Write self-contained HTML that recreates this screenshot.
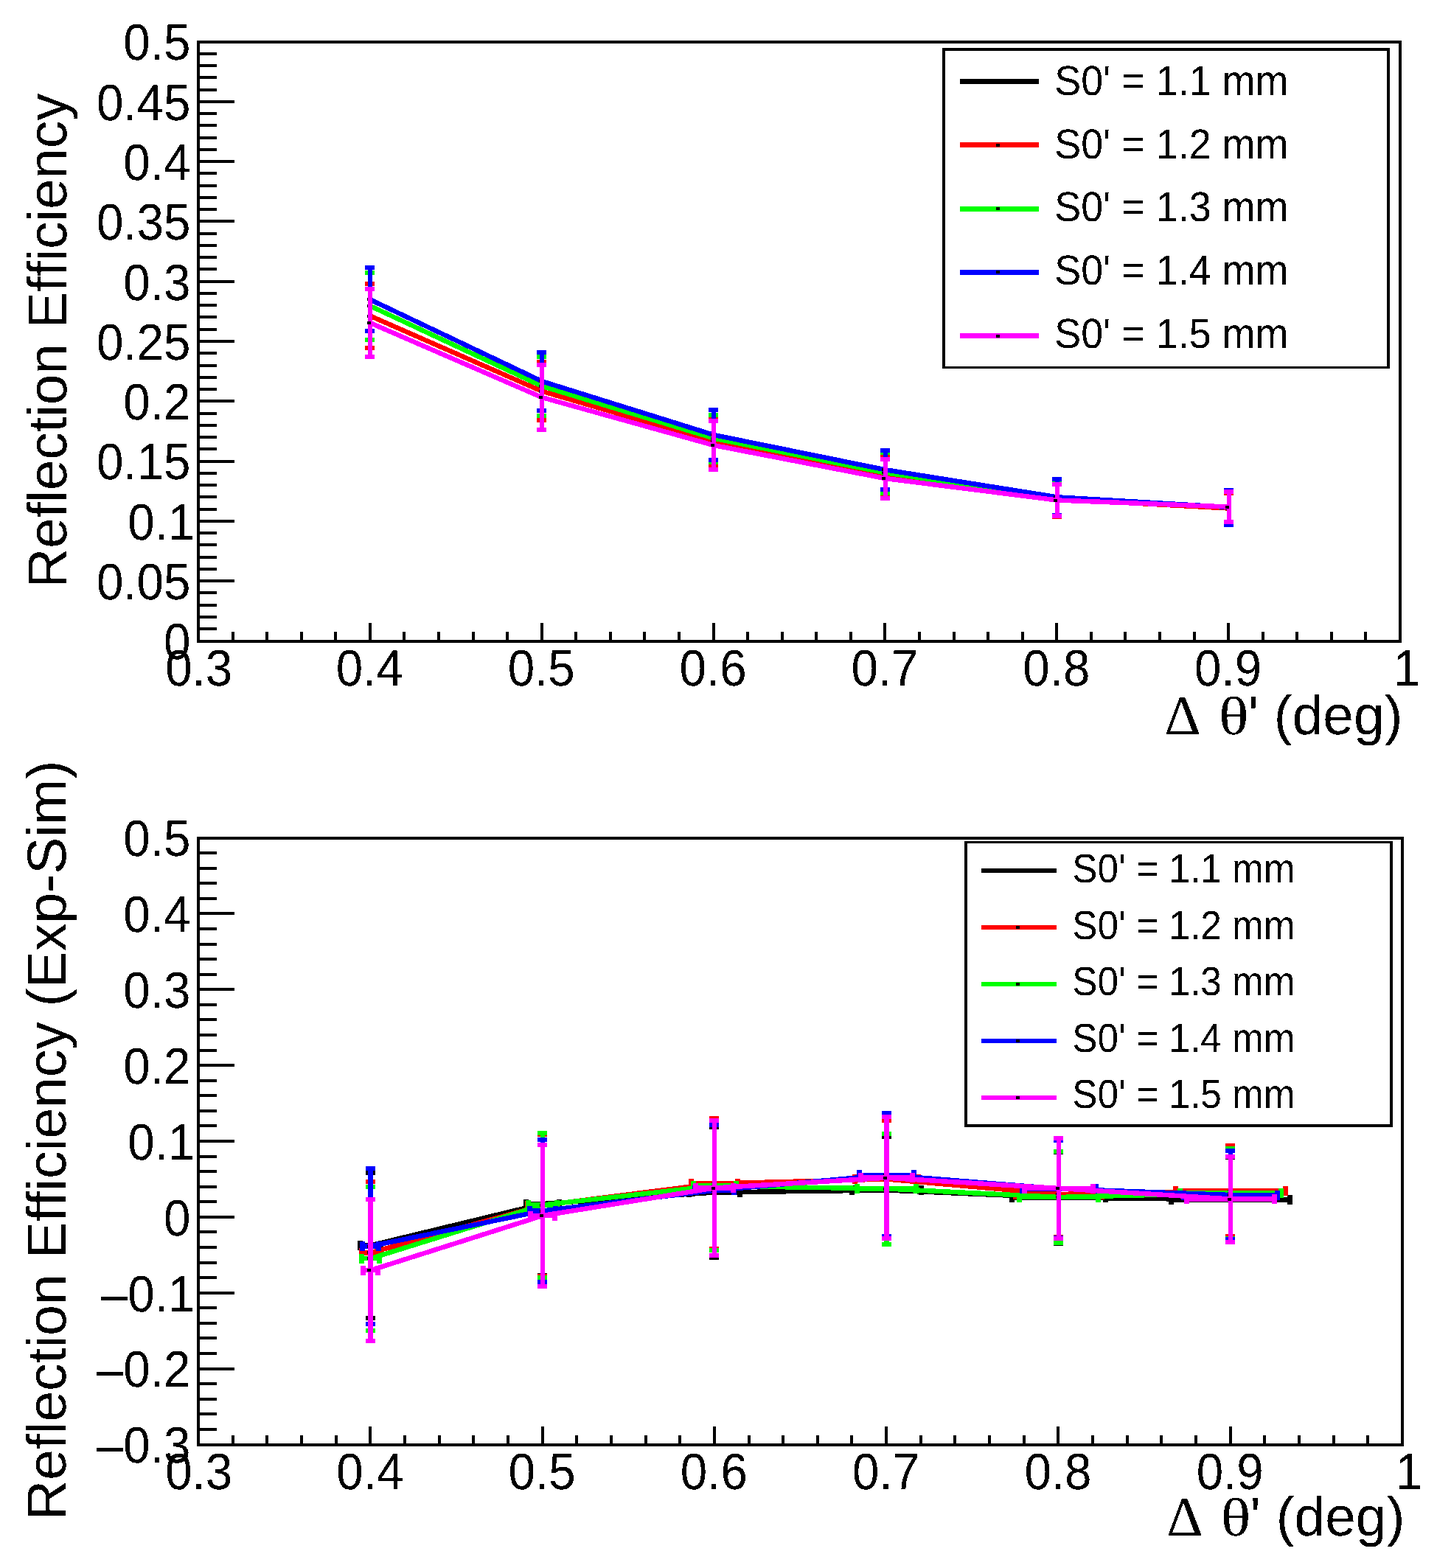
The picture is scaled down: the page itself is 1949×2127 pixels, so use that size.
<!DOCTYPE html>
<html><head><meta charset="utf-8"><title>Reflection Efficiency</title>
<style>
html,body{margin:0;padding:0;background:#fff;overflow:hidden;}
svg{display:block;}
text{font-variant-ligatures:none;font-kerning:none;fill:#000;text-rendering:geometricPrecision;}
</style></head>
<body>
<svg width="1949" height="2127" viewBox="0 0 1949 2127">
<defs><filter id="bin" x="-5%" y="-10%" width="110%" height="120%" color-interpolation-filters="sRGB"><feComponentTransfer><feFuncA type="discrete" tableValues="0 1"/></feComponentTransfer></filter></defs>
<rect x="0" y="0" width="1949" height="2127" fill="#fff"/>
<g shape-rendering="crispEdges">
<rect x="267.00" y="55.00" width="1634.00" height="4.00" fill="#000"/>
<rect x="267.00" y="868.00" width="1634.00" height="4.00" fill="#000"/>
<rect x="267.00" y="55.00" width="4.00" height="817.00" fill="#000"/>
<rect x="1897.00" y="55.00" width="4.00" height="817.00" fill="#000"/>
<rect x="313.57" y="857.00" width="4.00" height="11.00" fill="#000"/>
<rect x="360.14" y="857.00" width="4.00" height="11.00" fill="#000"/>
<rect x="406.71" y="857.00" width="4.00" height="11.00" fill="#000"/>
<rect x="453.29" y="857.00" width="4.00" height="11.00" fill="#000"/>
<rect x="499.86" y="845.00" width="4.00" height="23.00" fill="#000"/>
<rect x="546.43" y="857.00" width="4.00" height="11.00" fill="#000"/>
<rect x="593.00" y="857.00" width="4.00" height="11.00" fill="#000"/>
<rect x="639.57" y="857.00" width="4.00" height="11.00" fill="#000"/>
<rect x="686.14" y="857.00" width="4.00" height="11.00" fill="#000"/>
<rect x="732.71" y="845.00" width="4.00" height="23.00" fill="#000"/>
<rect x="779.29" y="857.00" width="4.00" height="11.00" fill="#000"/>
<rect x="825.86" y="857.00" width="4.00" height="11.00" fill="#000"/>
<rect x="872.43" y="857.00" width="4.00" height="11.00" fill="#000"/>
<rect x="919.00" y="857.00" width="4.00" height="11.00" fill="#000"/>
<rect x="965.57" y="845.00" width="4.00" height="23.00" fill="#000"/>
<rect x="1012.14" y="857.00" width="4.00" height="11.00" fill="#000"/>
<rect x="1058.71" y="857.00" width="4.00" height="11.00" fill="#000"/>
<rect x="1105.29" y="857.00" width="4.00" height="11.00" fill="#000"/>
<rect x="1151.86" y="857.00" width="4.00" height="11.00" fill="#000"/>
<rect x="1198.43" y="845.00" width="4.00" height="23.00" fill="#000"/>
<rect x="1245.00" y="857.00" width="4.00" height="11.00" fill="#000"/>
<rect x="1291.57" y="857.00" width="4.00" height="11.00" fill="#000"/>
<rect x="1338.14" y="857.00" width="4.00" height="11.00" fill="#000"/>
<rect x="1384.71" y="857.00" width="4.00" height="11.00" fill="#000"/>
<rect x="1431.29" y="845.00" width="4.00" height="23.00" fill="#000"/>
<rect x="1477.86" y="857.00" width="4.00" height="11.00" fill="#000"/>
<rect x="1524.43" y="857.00" width="4.00" height="11.00" fill="#000"/>
<rect x="1571.00" y="857.00" width="4.00" height="11.00" fill="#000"/>
<rect x="1617.57" y="857.00" width="4.00" height="11.00" fill="#000"/>
<rect x="1664.14" y="845.00" width="4.00" height="23.00" fill="#000"/>
<rect x="1710.71" y="857.00" width="4.00" height="11.00" fill="#000"/>
<rect x="1757.29" y="857.00" width="4.00" height="11.00" fill="#000"/>
<rect x="1803.86" y="857.00" width="4.00" height="11.00" fill="#000"/>
<rect x="1850.43" y="857.00" width="4.00" height="11.00" fill="#000"/>
<rect x="269.00" y="851.24" width="25.00" height="4.00" fill="#000"/>
<rect x="269.00" y="834.98" width="25.00" height="4.00" fill="#000"/>
<rect x="269.00" y="818.72" width="25.00" height="4.00" fill="#000"/>
<rect x="269.00" y="802.46" width="25.00" height="4.00" fill="#000"/>
<rect x="269.00" y="786.20" width="49.00" height="4.00" fill="#000"/>
<rect x="269.00" y="769.94" width="25.00" height="4.00" fill="#000"/>
<rect x="269.00" y="753.68" width="25.00" height="4.00" fill="#000"/>
<rect x="269.00" y="737.42" width="25.00" height="4.00" fill="#000"/>
<rect x="269.00" y="721.16" width="25.00" height="4.00" fill="#000"/>
<rect x="269.00" y="704.90" width="49.00" height="4.00" fill="#000"/>
<rect x="269.00" y="688.64" width="25.00" height="4.00" fill="#000"/>
<rect x="269.00" y="672.38" width="25.00" height="4.00" fill="#000"/>
<rect x="269.00" y="656.12" width="25.00" height="4.00" fill="#000"/>
<rect x="269.00" y="639.86" width="25.00" height="4.00" fill="#000"/>
<rect x="269.00" y="623.60" width="49.00" height="4.00" fill="#000"/>
<rect x="269.00" y="607.34" width="25.00" height="4.00" fill="#000"/>
<rect x="269.00" y="591.08" width="25.00" height="4.00" fill="#000"/>
<rect x="269.00" y="574.82" width="25.00" height="4.00" fill="#000"/>
<rect x="269.00" y="558.56" width="25.00" height="4.00" fill="#000"/>
<rect x="269.00" y="542.30" width="49.00" height="4.00" fill="#000"/>
<rect x="269.00" y="526.04" width="25.00" height="4.00" fill="#000"/>
<rect x="269.00" y="509.78" width="25.00" height="4.00" fill="#000"/>
<rect x="269.00" y="493.52" width="25.00" height="4.00" fill="#000"/>
<rect x="269.00" y="477.26" width="25.00" height="4.00" fill="#000"/>
<rect x="269.00" y="461.00" width="49.00" height="4.00" fill="#000"/>
<rect x="269.00" y="444.74" width="25.00" height="4.00" fill="#000"/>
<rect x="269.00" y="428.48" width="25.00" height="4.00" fill="#000"/>
<rect x="269.00" y="412.22" width="25.00" height="4.00" fill="#000"/>
<rect x="269.00" y="395.96" width="25.00" height="4.00" fill="#000"/>
<rect x="269.00" y="379.70" width="49.00" height="4.00" fill="#000"/>
<rect x="269.00" y="363.44" width="25.00" height="4.00" fill="#000"/>
<rect x="269.00" y="347.18" width="25.00" height="4.00" fill="#000"/>
<rect x="269.00" y="330.92" width="25.00" height="4.00" fill="#000"/>
<rect x="269.00" y="314.66" width="25.00" height="4.00" fill="#000"/>
<rect x="269.00" y="298.40" width="49.00" height="4.00" fill="#000"/>
<rect x="269.00" y="282.14" width="25.00" height="4.00" fill="#000"/>
<rect x="269.00" y="265.88" width="25.00" height="4.00" fill="#000"/>
<rect x="269.00" y="249.62" width="25.00" height="4.00" fill="#000"/>
<rect x="269.00" y="233.36" width="25.00" height="4.00" fill="#000"/>
<rect x="269.00" y="217.10" width="49.00" height="4.00" fill="#000"/>
<rect x="269.00" y="200.84" width="25.00" height="4.00" fill="#000"/>
<rect x="269.00" y="184.58" width="25.00" height="4.00" fill="#000"/>
<rect x="269.00" y="168.32" width="25.00" height="4.00" fill="#000"/>
<rect x="269.00" y="152.06" width="25.00" height="4.00" fill="#000"/>
<rect x="269.00" y="135.80" width="49.00" height="4.00" fill="#000"/>
<rect x="269.00" y="119.54" width="25.00" height="4.00" fill="#000"/>
<rect x="269.00" y="103.28" width="25.00" height="4.00" fill="#000"/>
<rect x="269.00" y="87.02" width="25.00" height="4.00" fill="#000"/>
<rect x="269.00" y="70.76" width="25.00" height="4.00" fill="#000"/>
</g>
<g shape-rendering="crispEdges">
<rect x="499.00" y="385.00" width="6.00" height="87.00" fill="#000000"/>
<rect x="495.00" y="382.00" width="13.00" height="6.00" fill="#000000"/>
<rect x="495.00" y="469.00" width="13.00" height="6.00" fill="#000000"/>
<rect x="732.00" y="491.40" width="6.00" height="78.60" fill="#000000"/>
<rect x="728.00" y="488.40" width="13.00" height="6.00" fill="#000000"/>
<rect x="728.00" y="567.00" width="13.00" height="6.00" fill="#000000"/>
<rect x="965.00" y="566.00" width="6.00" height="66.00" fill="#000000"/>
<rect x="961.00" y="563.00" width="13.00" height="6.00" fill="#000000"/>
<rect x="961.00" y="629.00" width="13.00" height="6.00" fill="#000000"/>
<rect x="1197.50" y="617.50" width="6.00" height="54.00" fill="#000000"/>
<rect x="1193.50" y="614.50" width="13.00" height="6.00" fill="#000000"/>
<rect x="1193.50" y="668.50" width="13.00" height="6.00" fill="#000000"/>
<rect x="1430.50" y="653.00" width="6.00" height="48.00" fill="#000000"/>
<rect x="1426.50" y="650.00" width="13.00" height="6.00" fill="#000000"/>
<rect x="1426.50" y="698.00" width="13.00" height="6.00" fill="#000000"/>
<rect x="1663.50" y="668.50" width="6.00" height="42.00" fill="#000000"/>
<rect x="1659.50" y="665.50" width="13.00" height="6.00" fill="#000000"/>
<rect x="1659.50" y="707.50" width="13.00" height="6.00" fill="#000000"/>
<polyline points="502.00,428.50 735.00,530.70 968.00,599.00 1200.50,644.50 1433.50,677.00 1666.50,689.50" fill="none" stroke="#000000" stroke-width="6.5" stroke-linejoin="miter" stroke-linecap="butt"/>
<rect x="497.80" y="426.50" width="5.00" height="4.00" fill="#000"/>
<rect x="730.80" y="528.70" width="5.00" height="4.00" fill="#000"/>
<rect x="963.80" y="597.00" width="5.00" height="4.00" fill="#000"/>
<rect x="1196.30" y="642.50" width="5.00" height="4.00" fill="#000"/>
<rect x="1429.30" y="675.00" width="5.00" height="4.00" fill="#000"/>
<rect x="1662.30" y="687.50" width="5.00" height="4.00" fill="#000"/>
<rect x="499.00" y="385.00" width="6.00" height="87.00" fill="#ff0000"/>
<rect x="495.00" y="382.00" width="13.00" height="6.00" fill="#ff0000"/>
<rect x="495.00" y="469.00" width="13.00" height="6.00" fill="#ff0000"/>
<rect x="732.00" y="491.40" width="6.00" height="78.60" fill="#ff0000"/>
<rect x="728.00" y="488.40" width="13.00" height="6.00" fill="#ff0000"/>
<rect x="728.00" y="567.00" width="13.00" height="6.00" fill="#ff0000"/>
<rect x="965.00" y="566.00" width="6.00" height="66.00" fill="#ff0000"/>
<rect x="961.00" y="563.00" width="13.00" height="6.00" fill="#ff0000"/>
<rect x="961.00" y="629.00" width="13.00" height="6.00" fill="#ff0000"/>
<rect x="1197.50" y="617.50" width="6.00" height="54.00" fill="#ff0000"/>
<rect x="1193.50" y="614.50" width="13.00" height="6.00" fill="#ff0000"/>
<rect x="1193.50" y="668.50" width="13.00" height="6.00" fill="#ff0000"/>
<rect x="1430.50" y="653.00" width="6.00" height="48.00" fill="#ff0000"/>
<rect x="1426.50" y="650.00" width="13.00" height="6.00" fill="#ff0000"/>
<rect x="1426.50" y="698.00" width="13.00" height="6.00" fill="#ff0000"/>
<rect x="1663.50" y="668.50" width="6.00" height="42.00" fill="#ff0000"/>
<rect x="1659.50" y="665.50" width="13.00" height="6.00" fill="#ff0000"/>
<rect x="1659.50" y="707.50" width="13.00" height="6.00" fill="#ff0000"/>
<polyline points="502.00,428.50 735.00,530.70 968.00,599.00 1200.50,644.50 1433.50,677.00 1666.50,689.50" fill="none" stroke="#ff0000" stroke-width="6.5" stroke-linejoin="miter" stroke-linecap="butt"/>
<rect x="497.80" y="426.50" width="5.00" height="4.00" fill="#000"/>
<rect x="730.80" y="528.70" width="5.00" height="4.00" fill="#000"/>
<rect x="963.80" y="597.00" width="5.00" height="4.00" fill="#000"/>
<rect x="1196.30" y="642.50" width="5.00" height="4.00" fill="#000"/>
<rect x="1429.30" y="675.00" width="5.00" height="4.00" fill="#000"/>
<rect x="1662.30" y="687.50" width="5.00" height="4.00" fill="#000"/>
<rect x="499.00" y="369.50" width="6.00" height="91.00" fill="#00ff00"/>
<rect x="495.00" y="366.50" width="13.00" height="6.00" fill="#00ff00"/>
<rect x="495.00" y="457.50" width="13.00" height="6.00" fill="#00ff00"/>
<rect x="732.00" y="483.60" width="6.00" height="80.40" fill="#00ff00"/>
<rect x="728.00" y="480.60" width="13.00" height="6.00" fill="#00ff00"/>
<rect x="728.00" y="561.00" width="13.00" height="6.00" fill="#00ff00"/>
<rect x="965.00" y="562.50" width="6.00" height="64.00" fill="#00ff00"/>
<rect x="961.00" y="559.50" width="13.00" height="6.00" fill="#00ff00"/>
<rect x="961.00" y="623.50" width="13.00" height="6.00" fill="#00ff00"/>
<rect x="1197.50" y="613.60" width="6.00" height="55.40" fill="#00ff00"/>
<rect x="1193.50" y="610.60" width="13.00" height="6.00" fill="#00ff00"/>
<rect x="1193.50" y="666.00" width="13.00" height="6.00" fill="#00ff00"/>
<rect x="1430.50" y="650.50" width="6.00" height="49.00" fill="#00ff00"/>
<rect x="1426.50" y="647.50" width="13.00" height="6.00" fill="#00ff00"/>
<rect x="1426.50" y="696.50" width="13.00" height="6.00" fill="#00ff00"/>
<rect x="1663.50" y="665.00" width="6.00" height="46.00" fill="#00ff00"/>
<rect x="1659.50" y="662.00" width="13.00" height="6.00" fill="#00ff00"/>
<rect x="1659.50" y="708.00" width="13.00" height="6.00" fill="#00ff00"/>
<polyline points="502.00,415.00 735.00,523.80 968.00,594.50 1200.50,641.30 1433.50,675.00 1666.50,688.00" fill="none" stroke="#00ff00" stroke-width="6.5" stroke-linejoin="miter" stroke-linecap="butt"/>
<rect x="497.80" y="413.00" width="5.00" height="4.00" fill="#000"/>
<rect x="730.80" y="521.80" width="5.00" height="4.00" fill="#000"/>
<rect x="963.80" y="592.50" width="5.00" height="4.00" fill="#000"/>
<rect x="1196.30" y="639.30" width="5.00" height="4.00" fill="#000"/>
<rect x="1429.30" y="673.00" width="5.00" height="4.00" fill="#000"/>
<rect x="1662.30" y="686.00" width="5.00" height="4.00" fill="#000"/>
<rect x="499.00" y="363.40" width="6.00" height="86.00" fill="#0000ff"/>
<rect x="495.00" y="360.40" width="13.00" height="6.00" fill="#0000ff"/>
<rect x="495.00" y="446.40" width="13.00" height="6.00" fill="#0000ff"/>
<rect x="732.00" y="477.90" width="6.00" height="78.60" fill="#0000ff"/>
<rect x="728.00" y="474.90" width="13.00" height="6.00" fill="#0000ff"/>
<rect x="728.00" y="553.50" width="13.00" height="6.00" fill="#0000ff"/>
<rect x="965.00" y="556.00" width="6.00" height="68.00" fill="#0000ff"/>
<rect x="961.00" y="553.00" width="13.00" height="6.00" fill="#0000ff"/>
<rect x="961.00" y="621.00" width="13.00" height="6.00" fill="#0000ff"/>
<rect x="1197.50" y="610.90" width="6.00" height="52.60" fill="#0000ff"/>
<rect x="1193.50" y="607.90" width="13.00" height="6.00" fill="#0000ff"/>
<rect x="1193.50" y="660.50" width="13.00" height="6.00" fill="#0000ff"/>
<rect x="1430.50" y="650.10" width="6.00" height="48.40" fill="#0000ff"/>
<rect x="1426.50" y="647.10" width="13.00" height="6.00" fill="#0000ff"/>
<rect x="1426.50" y="695.50" width="13.00" height="6.00" fill="#0000ff"/>
<rect x="1663.50" y="664.50" width="6.00" height="47.00" fill="#0000ff"/>
<rect x="1659.50" y="661.50" width="13.00" height="6.00" fill="#0000ff"/>
<rect x="1659.50" y="708.50" width="13.00" height="6.00" fill="#0000ff"/>
<polyline points="502.00,406.40 735.00,517.20 968.00,590.00 1200.50,637.20 1433.50,674.30 1666.50,688.00" fill="none" stroke="#0000ff" stroke-width="6.5" stroke-linejoin="miter" stroke-linecap="butt"/>
<rect x="497.80" y="404.40" width="5.00" height="4.00" fill="#000"/>
<rect x="730.80" y="515.20" width="5.00" height="4.00" fill="#000"/>
<rect x="963.80" y="588.00" width="5.00" height="4.00" fill="#000"/>
<rect x="1196.30" y="635.20" width="5.00" height="4.00" fill="#000"/>
<rect x="1429.30" y="672.30" width="5.00" height="4.00" fill="#000"/>
<rect x="1662.30" y="686.00" width="5.00" height="4.00" fill="#000"/>
<rect x="499.00" y="392.00" width="6.00" height="92.00" fill="#ff00ff"/>
<rect x="495.00" y="389.00" width="13.00" height="6.00" fill="#ff00ff"/>
<rect x="495.00" y="481.00" width="13.00" height="6.00" fill="#ff00ff"/>
<rect x="732.00" y="495.10" width="6.00" height="87.80" fill="#ff00ff"/>
<rect x="728.00" y="492.10" width="13.00" height="6.00" fill="#ff00ff"/>
<rect x="728.00" y="579.90" width="13.00" height="6.00" fill="#ff00ff"/>
<rect x="965.00" y="571.30" width="6.00" height="65.40" fill="#ff00ff"/>
<rect x="961.00" y="568.30" width="13.00" height="6.00" fill="#ff00ff"/>
<rect x="961.00" y="633.70" width="13.00" height="6.00" fill="#ff00ff"/>
<rect x="1197.50" y="622.50" width="6.00" height="53.00" fill="#ff00ff"/>
<rect x="1193.50" y="619.50" width="13.00" height="6.00" fill="#ff00ff"/>
<rect x="1193.50" y="672.50" width="13.00" height="6.00" fill="#ff00ff"/>
<rect x="1430.50" y="657.00" width="6.00" height="43.00" fill="#ff00ff"/>
<rect x="1426.50" y="654.00" width="13.00" height="6.00" fill="#ff00ff"/>
<rect x="1426.50" y="697.00" width="13.00" height="6.00" fill="#ff00ff"/>
<rect x="1663.50" y="667.00" width="6.00" height="41.00" fill="#ff00ff"/>
<rect x="1659.50" y="664.00" width="13.00" height="6.00" fill="#ff00ff"/>
<rect x="1659.50" y="705.00" width="13.00" height="6.00" fill="#ff00ff"/>
<polyline points="502.00,438.00 735.00,539.00 968.00,604.00 1200.50,649.00 1433.50,678.50 1666.50,687.50" fill="none" stroke="#ff00ff" stroke-width="6.5" stroke-linejoin="miter" stroke-linecap="butt"/>
<rect x="497.80" y="436.00" width="5.00" height="4.00" fill="#000"/>
<rect x="730.80" y="537.00" width="5.00" height="4.00" fill="#000"/>
<rect x="963.80" y="602.00" width="5.00" height="4.00" fill="#000"/>
<rect x="1196.30" y="647.00" width="5.00" height="4.00" fill="#000"/>
<rect x="1429.30" y="676.50" width="5.00" height="4.00" fill="#000"/>
<rect x="1662.30" y="685.50" width="5.00" height="4.00" fill="#000"/>
</g>
<g shape-rendering="crispEdges">
<rect x="1279.75" y="66.75" width="1603.5" height="0" fill="none"/>
<rect x="1278.00" y="65.00" width="607.00" height="4.00" fill="#000"/>
<rect x="1278.00" y="497.00" width="607.00" height="3.00" fill="#000"/>
<rect x="1278.00" y="65.00" width="4.00" height="435.00" fill="#000"/>
<rect x="1881.00" y="65.00" width="4.00" height="435.00" fill="#000"/>
<rect x="1302.00" y="107.00" width="107.00" height="7.00" fill="#000000"/>
<rect x="1302.00" y="193.25" width="107.00" height="7.00" fill="#ff0000"/>
<rect x="1351.00" y="194.75" width="5.00" height="4.00" fill="#000"/>
<rect x="1302.00" y="279.50" width="107.00" height="7.00" fill="#00ff00"/>
<rect x="1351.00" y="281.00" width="5.00" height="4.00" fill="#000"/>
<rect x="1302.00" y="365.75" width="107.00" height="7.00" fill="#0000ff"/>
<rect x="1351.00" y="367.25" width="5.00" height="4.00" fill="#000"/>
<rect x="1302.00" y="452.00" width="107.00" height="7.00" fill="#ff00ff"/>
<rect x="1351.00" y="453.50" width="5.00" height="4.00" fill="#000"/>
</g>
<text transform="translate(1430.25,128.80) scale(0.944,1)" font-size="57.06" text-anchor="start" font-family="'Liberation Sans', Arial, Helvetica, sans-serif"  filter="url(#bin)">S0' = 1.1 mm</text>
<text transform="translate(1430.25,214.60) scale(0.944,1)" font-size="57.06" text-anchor="start" font-family="'Liberation Sans', Arial, Helvetica, sans-serif"  filter="url(#bin)">S0' = 1.2 mm</text>
<text transform="translate(1430.25,300.40) scale(0.944,1)" font-size="57.06" text-anchor="start" font-family="'Liberation Sans', Arial, Helvetica, sans-serif"  filter="url(#bin)">S0' = 1.3 mm</text>
<text transform="translate(1430.25,386.20) scale(0.944,1)" font-size="57.06" text-anchor="start" font-family="'Liberation Sans', Arial, Helvetica, sans-serif"  filter="url(#bin)">S0' = 1.4 mm</text>
<text transform="translate(1430.25,472.00) scale(0.944,1)" font-size="57.06" text-anchor="start" font-family="'Liberation Sans', Arial, Helvetica, sans-serif"  filter="url(#bin)">S0' = 1.5 mm</text>
<text transform="translate(258.35,894.30) scale(0.945,1)" font-size="69.3" text-anchor="end" font-family="'Liberation Sans', Arial, Helvetica, sans-serif"  filter="url(#bin)">0</text>
<text transform="translate(258.35,813.00) scale(0.945,1)" font-size="69.3" text-anchor="end" font-family="'Liberation Sans', Arial, Helvetica, sans-serif"  filter="url(#bin)">0.05</text>
<text transform="translate(264.35,731.70) scale(0.945,1)" font-size="69.3" text-anchor="end" font-family="'Liberation Sans', Arial, Helvetica, sans-serif"  filter="url(#bin)">0.1</text>
<text transform="translate(258.35,650.40) scale(0.945,1)" font-size="69.3" text-anchor="end" font-family="'Liberation Sans', Arial, Helvetica, sans-serif"  filter="url(#bin)">0.15</text>
<text transform="translate(258.35,569.10) scale(0.945,1)" font-size="69.3" text-anchor="end" font-family="'Liberation Sans', Arial, Helvetica, sans-serif"  filter="url(#bin)">0.2</text>
<text transform="translate(258.35,487.80) scale(0.945,1)" font-size="69.3" text-anchor="end" font-family="'Liberation Sans', Arial, Helvetica, sans-serif"  filter="url(#bin)">0.25</text>
<text transform="translate(258.35,406.50) scale(0.945,1)" font-size="69.3" text-anchor="end" font-family="'Liberation Sans', Arial, Helvetica, sans-serif"  filter="url(#bin)">0.3</text>
<text transform="translate(258.35,325.20) scale(0.945,1)" font-size="69.3" text-anchor="end" font-family="'Liberation Sans', Arial, Helvetica, sans-serif"  filter="url(#bin)">0.35</text>
<text transform="translate(258.35,243.90) scale(0.945,1)" font-size="69.3" text-anchor="end" font-family="'Liberation Sans', Arial, Helvetica, sans-serif"  filter="url(#bin)">0.4</text>
<text transform="translate(258.35,162.60) scale(0.945,1)" font-size="69.3" text-anchor="end" font-family="'Liberation Sans', Arial, Helvetica, sans-serif"  filter="url(#bin)">0.45</text>
<text transform="translate(258.35,81.30) scale(0.945,1)" font-size="69.3" text-anchor="end" font-family="'Liberation Sans', Arial, Helvetica, sans-serif"  filter="url(#bin)">0.5</text>
<text transform="translate(269.70,930.30) scale(0.945,1)" font-size="69.3" text-anchor="middle" font-family="'Liberation Sans', Arial, Helvetica, sans-serif"  filter="url(#bin)">0.3</text>
<text transform="translate(501.36,930.30) scale(0.945,1)" font-size="69.3" text-anchor="middle" font-family="'Liberation Sans', Arial, Helvetica, sans-serif"  filter="url(#bin)">0.4</text>
<text transform="translate(734.21,930.30) scale(0.945,1)" font-size="69.3" text-anchor="middle" font-family="'Liberation Sans', Arial, Helvetica, sans-serif"  filter="url(#bin)">0.5</text>
<text transform="translate(967.07,930.30) scale(0.945,1)" font-size="69.3" text-anchor="middle" font-family="'Liberation Sans', Arial, Helvetica, sans-serif"  filter="url(#bin)">0.6</text>
<text transform="translate(1199.93,930.30) scale(0.945,1)" font-size="69.3" text-anchor="middle" font-family="'Liberation Sans', Arial, Helvetica, sans-serif"  filter="url(#bin)">0.7</text>
<text transform="translate(1432.79,930.30) scale(0.945,1)" font-size="69.3" text-anchor="middle" font-family="'Liberation Sans', Arial, Helvetica, sans-serif"  filter="url(#bin)">0.8</text>
<text transform="translate(1665.64,930.30) scale(0.945,1)" font-size="69.3" text-anchor="middle" font-family="'Liberation Sans', Arial, Helvetica, sans-serif"  filter="url(#bin)">0.9</text>
<text transform="translate(1907.80,930.30) scale(0.945,1)" font-size="69.3" text-anchor="middle" font-family="'Liberation Sans', Arial, Helvetica, sans-serif"  filter="url(#bin)">1</text>
<text x="1579.50" y="995.60" font-size="76.2" text-anchor="start" font-family="'Liberation Serif', 'Times New Roman', serif"  filter="url(#bin)">Δ</text>
<text transform="translate(1652.93,995.60) scale(1.15,1)" font-size="73.6" text-anchor="start" font-family="'Liberation Serif', 'Times New Roman', serif"  filter="url(#bin)">θ</text>
<text transform="translate(1692.70,995.60) scale(0.9976211715730003,1)" font-size="75.0" text-anchor="start" font-family="'Liberation Sans', Arial, Helvetica, sans-serif"  filter="url(#bin)">' (deg)</text>
<text x="0" y="0" transform="translate(90.00,462.10) rotate(-90) scale(0.9940,1)" font-size="75.0" text-anchor="middle" font-family="'Liberation Sans', Arial, Helvetica, sans-serif" filter="url(#bin)">Reflection Efficiency</text>
<g shape-rendering="crispEdges">
<rect x="267.00" y="1135.00" width="1637.00" height="4.00" fill="#000"/>
<rect x="267.00" y="1958.00" width="1637.00" height="4.00" fill="#000"/>
<rect x="267.00" y="1135.00" width="4.00" height="827.00" fill="#000"/>
<rect x="1900.00" y="1135.00" width="4.00" height="827.00" fill="#000"/>
<rect x="313.66" y="1947.00" width="4.00" height="11.00" fill="#000"/>
<rect x="360.31" y="1947.00" width="4.00" height="11.00" fill="#000"/>
<rect x="406.97" y="1947.00" width="4.00" height="11.00" fill="#000"/>
<rect x="453.63" y="1947.00" width="4.00" height="11.00" fill="#000"/>
<rect x="500.29" y="1935.00" width="4.00" height="23.00" fill="#000"/>
<rect x="546.94" y="1947.00" width="4.00" height="11.00" fill="#000"/>
<rect x="593.60" y="1947.00" width="4.00" height="11.00" fill="#000"/>
<rect x="640.26" y="1947.00" width="4.00" height="11.00" fill="#000"/>
<rect x="686.91" y="1947.00" width="4.00" height="11.00" fill="#000"/>
<rect x="733.57" y="1935.00" width="4.00" height="23.00" fill="#000"/>
<rect x="780.23" y="1947.00" width="4.00" height="11.00" fill="#000"/>
<rect x="826.89" y="1947.00" width="4.00" height="11.00" fill="#000"/>
<rect x="873.54" y="1947.00" width="4.00" height="11.00" fill="#000"/>
<rect x="920.20" y="1947.00" width="4.00" height="11.00" fill="#000"/>
<rect x="966.86" y="1935.00" width="4.00" height="23.00" fill="#000"/>
<rect x="1013.51" y="1947.00" width="4.00" height="11.00" fill="#000"/>
<rect x="1060.17" y="1947.00" width="4.00" height="11.00" fill="#000"/>
<rect x="1106.83" y="1947.00" width="4.00" height="11.00" fill="#000"/>
<rect x="1153.49" y="1947.00" width="4.00" height="11.00" fill="#000"/>
<rect x="1200.14" y="1935.00" width="4.00" height="23.00" fill="#000"/>
<rect x="1246.80" y="1947.00" width="4.00" height="11.00" fill="#000"/>
<rect x="1293.46" y="1947.00" width="4.00" height="11.00" fill="#000"/>
<rect x="1340.11" y="1947.00" width="4.00" height="11.00" fill="#000"/>
<rect x="1386.77" y="1947.00" width="4.00" height="11.00" fill="#000"/>
<rect x="1433.43" y="1935.00" width="4.00" height="23.00" fill="#000"/>
<rect x="1480.09" y="1947.00" width="4.00" height="11.00" fill="#000"/>
<rect x="1526.74" y="1947.00" width="4.00" height="11.00" fill="#000"/>
<rect x="1573.40" y="1947.00" width="4.00" height="11.00" fill="#000"/>
<rect x="1620.06" y="1947.00" width="4.00" height="11.00" fill="#000"/>
<rect x="1666.71" y="1935.00" width="4.00" height="23.00" fill="#000"/>
<rect x="1713.37" y="1947.00" width="4.00" height="11.00" fill="#000"/>
<rect x="1760.03" y="1947.00" width="4.00" height="11.00" fill="#000"/>
<rect x="1806.69" y="1947.00" width="4.00" height="11.00" fill="#000"/>
<rect x="1853.34" y="1947.00" width="4.00" height="11.00" fill="#000"/>
<rect x="269.00" y="1936.93" width="25.00" height="4.00" fill="#000"/>
<rect x="269.00" y="1916.35" width="25.00" height="4.00" fill="#000"/>
<rect x="269.00" y="1895.78" width="25.00" height="4.00" fill="#000"/>
<rect x="269.00" y="1875.20" width="25.00" height="4.00" fill="#000"/>
<rect x="269.00" y="1854.62" width="49.00" height="4.00" fill="#000"/>
<rect x="269.00" y="1834.05" width="25.00" height="4.00" fill="#000"/>
<rect x="269.00" y="1813.47" width="25.00" height="4.00" fill="#000"/>
<rect x="269.00" y="1792.90" width="25.00" height="4.00" fill="#000"/>
<rect x="269.00" y="1772.33" width="25.00" height="4.00" fill="#000"/>
<rect x="269.00" y="1751.75" width="49.00" height="4.00" fill="#000"/>
<rect x="269.00" y="1731.17" width="25.00" height="4.00" fill="#000"/>
<rect x="269.00" y="1710.60" width="25.00" height="4.00" fill="#000"/>
<rect x="269.00" y="1690.03" width="25.00" height="4.00" fill="#000"/>
<rect x="269.00" y="1669.45" width="25.00" height="4.00" fill="#000"/>
<rect x="269.00" y="1648.88" width="49.00" height="4.00" fill="#000"/>
<rect x="269.00" y="1628.30" width="25.00" height="4.00" fill="#000"/>
<rect x="269.00" y="1607.72" width="25.00" height="4.00" fill="#000"/>
<rect x="269.00" y="1587.15" width="25.00" height="4.00" fill="#000"/>
<rect x="269.00" y="1566.58" width="25.00" height="4.00" fill="#000"/>
<rect x="269.00" y="1546.00" width="49.00" height="4.00" fill="#000"/>
<rect x="269.00" y="1525.42" width="25.00" height="4.00" fill="#000"/>
<rect x="269.00" y="1504.85" width="25.00" height="4.00" fill="#000"/>
<rect x="269.00" y="1484.28" width="25.00" height="4.00" fill="#000"/>
<rect x="269.00" y="1463.70" width="25.00" height="4.00" fill="#000"/>
<rect x="269.00" y="1443.12" width="49.00" height="4.00" fill="#000"/>
<rect x="269.00" y="1422.55" width="25.00" height="4.00" fill="#000"/>
<rect x="269.00" y="1401.97" width="25.00" height="4.00" fill="#000"/>
<rect x="269.00" y="1381.40" width="25.00" height="4.00" fill="#000"/>
<rect x="269.00" y="1360.83" width="25.00" height="4.00" fill="#000"/>
<rect x="269.00" y="1340.25" width="49.00" height="4.00" fill="#000"/>
<rect x="269.00" y="1319.67" width="25.00" height="4.00" fill="#000"/>
<rect x="269.00" y="1299.10" width="25.00" height="4.00" fill="#000"/>
<rect x="269.00" y="1278.52" width="25.00" height="4.00" fill="#000"/>
<rect x="269.00" y="1257.95" width="25.00" height="4.00" fill="#000"/>
<rect x="269.00" y="1237.38" width="49.00" height="4.00" fill="#000"/>
<rect x="269.00" y="1216.80" width="25.00" height="4.00" fill="#000"/>
<rect x="269.00" y="1196.22" width="25.00" height="4.00" fill="#000"/>
<rect x="269.00" y="1175.65" width="25.00" height="4.00" fill="#000"/>
<rect x="269.00" y="1155.08" width="25.00" height="4.00" fill="#000"/>
</g>
<g shape-rendering="crispEdges">
<rect x="499.25" y="1590.80" width="6.50" height="197.40" fill="#000000"/>
<rect x="495.50" y="1587.80" width="13.00" height="6.00" fill="#000000"/>
<rect x="495.50" y="1785.20" width="13.00" height="6.00" fill="#000000"/>
<rect x="488.86" y="1686.25" width="27.27" height="6.50" fill="#000000"/>
<rect x="485.36" y="1683.00" width="7.00" height="13.00" fill="#000000"/>
<rect x="512.64" y="1683.00" width="7.00" height="13.00" fill="#000000"/>
<rect x="732.75" y="1536.50" width="6.50" height="193.00" fill="#000000"/>
<rect x="729.00" y="1533.50" width="13.00" height="6.00" fill="#000000"/>
<rect x="729.00" y="1726.50" width="13.00" height="6.00" fill="#000000"/>
<rect x="713.27" y="1629.75" width="45.45" height="6.50" fill="#000000"/>
<rect x="709.77" y="1626.50" width="7.00" height="13.00" fill="#000000"/>
<rect x="755.23" y="1626.50" width="7.00" height="13.00" fill="#000000"/>
<rect x="965.75" y="1529.20" width="6.50" height="176.60" fill="#000000"/>
<rect x="962.00" y="1526.20" width="13.00" height="6.00" fill="#000000"/>
<rect x="962.00" y="1702.80" width="13.00" height="6.00" fill="#000000"/>
<rect x="934.73" y="1614.25" width="68.55" height="6.50" fill="#000000"/>
<rect x="931.23" y="1611.00" width="7.00" height="13.00" fill="#000000"/>
<rect x="999.77" y="1611.00" width="7.00" height="13.00" fill="#000000"/>
<rect x="1199.25" y="1541.50" width="6.50" height="146.00" fill="#000000"/>
<rect x="1195.50" y="1538.50" width="13.00" height="6.00" fill="#000000"/>
<rect x="1195.50" y="1684.50" width="13.00" height="6.00" fill="#000000"/>
<rect x="1155.23" y="1611.25" width="94.55" height="6.50" fill="#000000"/>
<rect x="1151.73" y="1608.00" width="7.00" height="13.00" fill="#000000"/>
<rect x="1246.27" y="1608.00" width="7.00" height="13.00" fill="#000000"/>
<rect x="1432.75" y="1562.50" width="6.50" height="124.00" fill="#000000"/>
<rect x="1429.00" y="1559.50" width="13.00" height="6.00" fill="#000000"/>
<rect x="1429.00" y="1683.50" width="13.00" height="6.00" fill="#000000"/>
<rect x="1372.36" y="1621.25" width="127.27" height="6.50" fill="#000000"/>
<rect x="1368.86" y="1618.00" width="7.00" height="13.00" fill="#000000"/>
<rect x="1496.14" y="1618.00" width="7.00" height="13.00" fill="#000000"/>
<rect x="1665.75" y="1569.50" width="6.50" height="115.60" fill="#000000"/>
<rect x="1662.00" y="1566.50" width="13.00" height="6.00" fill="#000000"/>
<rect x="1662.00" y="1682.10" width="13.00" height="6.00" fill="#000000"/>
<rect x="1588.09" y="1624.05" width="161.82" height="6.50" fill="#000000"/>
<rect x="1584.59" y="1620.80" width="7.00" height="13.00" fill="#000000"/>
<rect x="1746.41" y="1620.80" width="7.00" height="13.00" fill="#000000"/>
<polyline points="502.50,1689.50 736.00,1633.00 969.00,1617.50 1202.50,1614.50 1436.00,1624.50 1669.00,1627.30" fill="none" stroke="#000000" stroke-width="6.5" stroke-linejoin="miter" stroke-linecap="butt"/>
<rect x="498.30" y="1687.50" width="5.00" height="4.00" fill="#000"/>
<rect x="731.80" y="1631.00" width="5.00" height="4.00" fill="#000"/>
<rect x="964.80" y="1615.50" width="5.00" height="4.00" fill="#000"/>
<rect x="1198.30" y="1612.50" width="5.00" height="4.00" fill="#000"/>
<rect x="1431.80" y="1622.50" width="5.00" height="4.00" fill="#000"/>
<rect x="1664.80" y="1625.30" width="5.00" height="4.00" fill="#000"/>
<rect x="499.25" y="1602.70" width="6.50" height="193.20" fill="#ff0000"/>
<rect x="495.50" y="1599.70" width="13.00" height="6.00" fill="#ff0000"/>
<rect x="495.50" y="1792.90" width="13.00" height="6.00" fill="#ff0000"/>
<rect x="490.00" y="1696.05" width="25.00" height="6.50" fill="#ff0000"/>
<rect x="486.50" y="1692.80" width="7.00" height="13.00" fill="#ff0000"/>
<rect x="511.50" y="1692.80" width="7.00" height="13.00" fill="#ff0000"/>
<rect x="732.75" y="1539.00" width="6.50" height="192.20" fill="#ff0000"/>
<rect x="729.00" y="1536.00" width="13.00" height="6.00" fill="#ff0000"/>
<rect x="729.00" y="1728.20" width="13.00" height="6.00" fill="#ff0000"/>
<rect x="715.17" y="1631.85" width="41.67" height="6.50" fill="#ff0000"/>
<rect x="711.67" y="1628.60" width="7.00" height="13.00" fill="#ff0000"/>
<rect x="753.33" y="1628.60" width="7.00" height="13.00" fill="#ff0000"/>
<rect x="965.75" y="1517.00" width="6.50" height="177.00" fill="#ff0000"/>
<rect x="962.00" y="1514.00" width="13.00" height="6.00" fill="#ff0000"/>
<rect x="962.00" y="1691.00" width="13.00" height="6.00" fill="#ff0000"/>
<rect x="937.58" y="1602.25" width="62.83" height="6.50" fill="#ff0000"/>
<rect x="934.08" y="1599.00" width="7.00" height="13.00" fill="#ff0000"/>
<rect x="996.92" y="1599.00" width="7.00" height="13.00" fill="#ff0000"/>
<rect x="1199.25" y="1520.30" width="6.50" height="158.40" fill="#ff0000"/>
<rect x="1195.50" y="1517.30" width="13.00" height="6.00" fill="#ff0000"/>
<rect x="1195.50" y="1675.70" width="13.00" height="6.00" fill="#ff0000"/>
<rect x="1159.17" y="1596.25" width="86.67" height="6.50" fill="#ff0000"/>
<rect x="1155.67" y="1593.00" width="7.00" height="13.00" fill="#ff0000"/>
<rect x="1242.33" y="1593.00" width="7.00" height="13.00" fill="#ff0000"/>
<rect x="1432.75" y="1561.70" width="6.50" height="116.60" fill="#ff0000"/>
<rect x="1429.00" y="1558.70" width="13.00" height="6.00" fill="#ff0000"/>
<rect x="1429.00" y="1675.30" width="13.00" height="6.00" fill="#ff0000"/>
<rect x="1377.67" y="1616.75" width="116.67" height="6.50" fill="#ff0000"/>
<rect x="1374.17" y="1613.50" width="7.00" height="13.00" fill="#ff0000"/>
<rect x="1490.83" y="1613.50" width="7.00" height="13.00" fill="#ff0000"/>
<rect x="1665.75" y="1554.20" width="6.50" height="123.00" fill="#ff0000"/>
<rect x="1662.00" y="1551.20" width="13.00" height="6.00" fill="#ff0000"/>
<rect x="1662.00" y="1674.20" width="13.00" height="6.00" fill="#ff0000"/>
<rect x="1594.83" y="1612.45" width="148.33" height="6.50" fill="#ff0000"/>
<rect x="1591.33" y="1609.20" width="7.00" height="13.00" fill="#ff0000"/>
<rect x="1739.67" y="1609.20" width="7.00" height="13.00" fill="#ff0000"/>
<polyline points="502.50,1699.30 736.00,1635.10 969.00,1605.50 1202.50,1599.50 1436.00,1620.00 1669.00,1615.70" fill="none" stroke="#ff0000" stroke-width="6.5" stroke-linejoin="miter" stroke-linecap="butt"/>
<rect x="498.30" y="1697.30" width="5.00" height="4.00" fill="#000"/>
<rect x="731.80" y="1633.10" width="5.00" height="4.00" fill="#000"/>
<rect x="964.80" y="1603.50" width="5.00" height="4.00" fill="#000"/>
<rect x="1198.30" y="1597.50" width="5.00" height="4.00" fill="#000"/>
<rect x="1431.80" y="1618.00" width="5.00" height="4.00" fill="#000"/>
<rect x="1664.80" y="1613.70" width="5.00" height="4.00" fill="#000"/>
<rect x="499.25" y="1609.60" width="6.50" height="195.20" fill="#00ff00"/>
<rect x="495.50" y="1606.60" width="13.00" height="6.00" fill="#00ff00"/>
<rect x="495.50" y="1801.80" width="13.00" height="6.00" fill="#00ff00"/>
<rect x="490.96" y="1703.95" width="23.08" height="6.50" fill="#00ff00"/>
<rect x="487.46" y="1700.70" width="7.00" height="13.00" fill="#00ff00"/>
<rect x="510.54" y="1700.70" width="7.00" height="13.00" fill="#00ff00"/>
<rect x="732.75" y="1536.50" width="6.50" height="196.00" fill="#00ff00"/>
<rect x="729.00" y="1533.50" width="13.00" height="6.00" fill="#00ff00"/>
<rect x="729.00" y="1729.50" width="13.00" height="6.00" fill="#00ff00"/>
<rect x="716.77" y="1631.25" width="38.46" height="6.50" fill="#00ff00"/>
<rect x="713.27" y="1628.00" width="7.00" height="13.00" fill="#00ff00"/>
<rect x="751.73" y="1628.00" width="7.00" height="13.00" fill="#00ff00"/>
<rect x="965.75" y="1521.70" width="6.50" height="174.00" fill="#00ff00"/>
<rect x="962.00" y="1518.70" width="13.00" height="6.00" fill="#00ff00"/>
<rect x="962.00" y="1692.70" width="13.00" height="6.00" fill="#00ff00"/>
<rect x="940.00" y="1605.45" width="58.00" height="6.50" fill="#00ff00"/>
<rect x="936.50" y="1602.20" width="7.00" height="13.00" fill="#00ff00"/>
<rect x="994.50" y="1602.20" width="7.00" height="13.00" fill="#00ff00"/>
<rect x="1199.25" y="1537.50" width="6.50" height="150.00" fill="#00ff00"/>
<rect x="1195.50" y="1534.50" width="13.00" height="6.00" fill="#00ff00"/>
<rect x="1195.50" y="1684.50" width="13.00" height="6.00" fill="#00ff00"/>
<rect x="1162.50" y="1609.25" width="80.00" height="6.50" fill="#00ff00"/>
<rect x="1159.00" y="1606.00" width="7.00" height="13.00" fill="#00ff00"/>
<rect x="1239.00" y="1606.00" width="7.00" height="13.00" fill="#00ff00"/>
<rect x="1432.75" y="1562.00" width="6.50" height="124.00" fill="#00ff00"/>
<rect x="1429.00" y="1559.00" width="13.00" height="6.00" fill="#00ff00"/>
<rect x="1429.00" y="1683.00" width="13.00" height="6.00" fill="#00ff00"/>
<rect x="1382.15" y="1620.75" width="107.69" height="6.50" fill="#00ff00"/>
<rect x="1378.65" y="1617.50" width="7.00" height="13.00" fill="#00ff00"/>
<rect x="1486.35" y="1617.50" width="7.00" height="13.00" fill="#00ff00"/>
<rect x="1665.75" y="1557.50" width="6.50" height="122.00" fill="#00ff00"/>
<rect x="1662.00" y="1554.50" width="13.00" height="6.00" fill="#00ff00"/>
<rect x="1662.00" y="1676.50" width="13.00" height="6.00" fill="#00ff00"/>
<rect x="1600.54" y="1615.25" width="136.92" height="6.50" fill="#00ff00"/>
<rect x="1597.04" y="1612.00" width="7.00" height="13.00" fill="#00ff00"/>
<rect x="1733.96" y="1612.00" width="7.00" height="13.00" fill="#00ff00"/>
<polyline points="502.50,1707.20 736.00,1634.50 969.00,1608.70 1202.50,1612.50 1436.00,1624.00 1669.00,1618.50" fill="none" stroke="#00ff00" stroke-width="6.5" stroke-linejoin="miter" stroke-linecap="butt"/>
<rect x="498.30" y="1705.20" width="5.00" height="4.00" fill="#000"/>
<rect x="731.80" y="1632.50" width="5.00" height="4.00" fill="#000"/>
<rect x="964.80" y="1606.70" width="5.00" height="4.00" fill="#000"/>
<rect x="1198.30" y="1610.50" width="5.00" height="4.00" fill="#000"/>
<rect x="1431.80" y="1622.00" width="5.00" height="4.00" fill="#000"/>
<rect x="1664.80" y="1616.50" width="5.00" height="4.00" fill="#000"/>
<rect x="499.25" y="1585.20" width="6.50" height="210.60" fill="#0000ff"/>
<rect x="495.50" y="1582.20" width="13.00" height="6.00" fill="#0000ff"/>
<rect x="495.50" y="1792.80" width="13.00" height="6.00" fill="#0000ff"/>
<rect x="491.79" y="1687.25" width="21.43" height="6.50" fill="#0000ff"/>
<rect x="488.29" y="1684.00" width="7.00" height="13.00" fill="#0000ff"/>
<rect x="509.71" y="1684.00" width="7.00" height="13.00" fill="#0000ff"/>
<rect x="732.75" y="1546.00" width="6.50" height="193.00" fill="#0000ff"/>
<rect x="729.00" y="1543.00" width="13.00" height="6.00" fill="#0000ff"/>
<rect x="729.00" y="1736.00" width="13.00" height="6.00" fill="#0000ff"/>
<rect x="718.14" y="1639.25" width="35.71" height="6.50" fill="#0000ff"/>
<rect x="714.64" y="1636.00" width="7.00" height="13.00" fill="#0000ff"/>
<rect x="750.36" y="1636.00" width="7.00" height="13.00" fill="#0000ff"/>
<rect x="965.75" y="1526.25" width="6.50" height="177.00" fill="#0000ff"/>
<rect x="962.00" y="1523.25" width="13.00" height="6.00" fill="#0000ff"/>
<rect x="962.00" y="1700.25" width="13.00" height="6.00" fill="#0000ff"/>
<rect x="942.07" y="1611.50" width="53.86" height="6.50" fill="#0000ff"/>
<rect x="938.57" y="1608.25" width="7.00" height="13.00" fill="#0000ff"/>
<rect x="992.43" y="1608.25" width="7.00" height="13.00" fill="#0000ff"/>
<rect x="1199.25" y="1510.40" width="6.50" height="167.00" fill="#0000ff"/>
<rect x="1195.50" y="1507.40" width="13.00" height="6.00" fill="#0000ff"/>
<rect x="1195.50" y="1674.40" width="13.00" height="6.00" fill="#0000ff"/>
<rect x="1165.36" y="1590.65" width="74.29" height="6.50" fill="#0000ff"/>
<rect x="1161.86" y="1587.40" width="7.00" height="13.00" fill="#0000ff"/>
<rect x="1236.14" y="1587.40" width="7.00" height="13.00" fill="#0000ff"/>
<rect x="1432.75" y="1546.50" width="6.50" height="132.00" fill="#0000ff"/>
<rect x="1429.00" y="1543.50" width="13.00" height="6.00" fill="#0000ff"/>
<rect x="1429.00" y="1675.50" width="13.00" height="6.00" fill="#0000ff"/>
<rect x="1386.00" y="1609.25" width="100.00" height="6.50" fill="#0000ff"/>
<rect x="1382.50" y="1606.00" width="7.00" height="13.00" fill="#0000ff"/>
<rect x="1482.50" y="1606.00" width="7.00" height="13.00" fill="#0000ff"/>
<rect x="1665.75" y="1561.00" width="6.50" height="120.00" fill="#0000ff"/>
<rect x="1662.00" y="1558.00" width="13.00" height="6.00" fill="#0000ff"/>
<rect x="1662.00" y="1678.00" width="13.00" height="6.00" fill="#0000ff"/>
<rect x="1605.43" y="1617.75" width="127.14" height="6.50" fill="#0000ff"/>
<rect x="1601.93" y="1614.50" width="7.00" height="13.00" fill="#0000ff"/>
<rect x="1729.07" y="1614.50" width="7.00" height="13.00" fill="#0000ff"/>
<polyline points="502.50,1690.50 736.00,1642.50 969.00,1614.75 1202.50,1593.90 1436.00,1612.50 1669.00,1621.00" fill="none" stroke="#0000ff" stroke-width="6.5" stroke-linejoin="miter" stroke-linecap="butt"/>
<rect x="498.30" y="1688.50" width="5.00" height="4.00" fill="#000"/>
<rect x="731.80" y="1640.50" width="5.00" height="4.00" fill="#000"/>
<rect x="964.80" y="1612.75" width="5.00" height="4.00" fill="#000"/>
<rect x="1198.30" y="1591.90" width="5.00" height="4.00" fill="#000"/>
<rect x="1431.80" y="1610.50" width="5.00" height="4.00" fill="#000"/>
<rect x="1664.80" y="1619.00" width="5.00" height="4.00" fill="#000"/>
<rect x="499.25" y="1627.20" width="6.50" height="192.00" fill="#ff00ff"/>
<rect x="495.50" y="1624.20" width="13.00" height="6.00" fill="#ff00ff"/>
<rect x="495.50" y="1816.20" width="13.00" height="6.00" fill="#ff00ff"/>
<rect x="492.50" y="1719.95" width="20.00" height="6.50" fill="#ff00ff"/>
<rect x="489.00" y="1716.70" width="7.00" height="13.00" fill="#ff00ff"/>
<rect x="509.00" y="1716.70" width="7.00" height="13.00" fill="#ff00ff"/>
<rect x="732.75" y="1552.60" width="6.50" height="192.80" fill="#ff00ff"/>
<rect x="729.00" y="1549.60" width="13.00" height="6.00" fill="#ff00ff"/>
<rect x="729.00" y="1742.40" width="13.00" height="6.00" fill="#ff00ff"/>
<rect x="719.33" y="1645.75" width="33.33" height="6.50" fill="#ff00ff"/>
<rect x="715.83" y="1642.50" width="7.00" height="13.00" fill="#ff00ff"/>
<rect x="749.17" y="1642.50" width="7.00" height="13.00" fill="#ff00ff"/>
<rect x="965.75" y="1520.30" width="6.50" height="182.40" fill="#ff00ff"/>
<rect x="962.00" y="1517.30" width="13.00" height="6.00" fill="#ff00ff"/>
<rect x="962.00" y="1699.70" width="13.00" height="6.00" fill="#ff00ff"/>
<rect x="943.87" y="1608.25" width="50.27" height="6.50" fill="#ff00ff"/>
<rect x="940.37" y="1605.00" width="7.00" height="13.00" fill="#ff00ff"/>
<rect x="990.63" y="1605.00" width="7.00" height="13.00" fill="#ff00ff"/>
<rect x="1199.25" y="1514.95" width="6.50" height="165.50" fill="#ff00ff"/>
<rect x="1195.50" y="1511.95" width="13.00" height="6.00" fill="#ff00ff"/>
<rect x="1195.50" y="1677.45" width="13.00" height="6.00" fill="#ff00ff"/>
<rect x="1167.83" y="1594.45" width="69.33" height="6.50" fill="#ff00ff"/>
<rect x="1164.33" y="1591.20" width="7.00" height="13.00" fill="#ff00ff"/>
<rect x="1233.67" y="1591.20" width="7.00" height="13.00" fill="#ff00ff"/>
<rect x="1432.75" y="1544.30" width="6.50" height="135.40" fill="#ff00ff"/>
<rect x="1429.00" y="1541.30" width="13.00" height="6.00" fill="#ff00ff"/>
<rect x="1429.00" y="1676.70" width="13.00" height="6.00" fill="#ff00ff"/>
<rect x="1389.33" y="1608.75" width="93.33" height="6.50" fill="#ff00ff"/>
<rect x="1385.83" y="1605.50" width="7.00" height="13.00" fill="#ff00ff"/>
<rect x="1479.17" y="1605.50" width="7.00" height="13.00" fill="#ff00ff"/>
<rect x="1665.75" y="1568.50" width="6.50" height="116.00" fill="#ff00ff"/>
<rect x="1662.00" y="1565.50" width="13.00" height="6.00" fill="#ff00ff"/>
<rect x="1662.00" y="1681.50" width="13.00" height="6.00" fill="#ff00ff"/>
<rect x="1609.67" y="1623.25" width="118.67" height="6.50" fill="#ff00ff"/>
<rect x="1606.17" y="1620.00" width="7.00" height="13.00" fill="#ff00ff"/>
<rect x="1724.83" y="1620.00" width="7.00" height="13.00" fill="#ff00ff"/>
<polyline points="502.50,1723.20 736.00,1649.00 969.00,1611.50 1202.50,1597.70 1436.00,1612.00 1669.00,1626.50" fill="none" stroke="#ff00ff" stroke-width="6.5" stroke-linejoin="miter" stroke-linecap="butt"/>
<rect x="498.30" y="1721.20" width="5.00" height="4.00" fill="#000"/>
<rect x="731.80" y="1647.00" width="5.00" height="4.00" fill="#000"/>
<rect x="964.80" y="1609.50" width="5.00" height="4.00" fill="#000"/>
<rect x="1198.30" y="1595.70" width="5.00" height="4.00" fill="#000"/>
<rect x="1431.80" y="1610.00" width="5.00" height="4.00" fill="#000"/>
<rect x="1664.80" y="1624.50" width="5.00" height="4.00" fill="#000"/>
</g>
<g shape-rendering="crispEdges">
<rect x="1308.00" y="1141.00" width="581.00" height="3.00" fill="#000"/>
<rect x="1308.00" y="1525.00" width="581.00" height="4.00" fill="#000"/>
<rect x="1308.00" y="1141.00" width="4.00" height="388.00" fill="#000"/>
<rect x="1885.00" y="1141.00" width="4.00" height="388.00" fill="#000"/>
<rect x="1331.00" y="1178.00" width="102.00" height="6.00" fill="#000000"/>
<rect x="1331.00" y="1255.00" width="102.00" height="6.00" fill="#ff0000"/>
<rect x="1378.00" y="1256.00" width="5.00" height="4.00" fill="#000"/>
<rect x="1331.00" y="1332.00" width="102.00" height="6.00" fill="#00ff00"/>
<rect x="1378.00" y="1333.00" width="5.00" height="4.00" fill="#000"/>
<rect x="1331.00" y="1409.00" width="102.00" height="6.00" fill="#0000ff"/>
<rect x="1378.00" y="1410.00" width="5.00" height="4.00" fill="#000"/>
<rect x="1331.00" y="1486.00" width="102.00" height="6.00" fill="#ff00ff"/>
<rect x="1378.00" y="1487.00" width="5.00" height="4.00" fill="#000"/>
</g>
<text transform="translate(1454.30,1197.00) scale(0.932,1)" font-size="55.1" text-anchor="start" font-family="'Liberation Sans', Arial, Helvetica, sans-serif"  filter="url(#bin)">S0' = 1.1 mm</text>
<text transform="translate(1454.30,1273.55) scale(0.932,1)" font-size="55.1" text-anchor="start" font-family="'Liberation Sans', Arial, Helvetica, sans-serif"  filter="url(#bin)">S0' = 1.2 mm</text>
<text transform="translate(1454.30,1350.10) scale(0.932,1)" font-size="55.1" text-anchor="start" font-family="'Liberation Sans', Arial, Helvetica, sans-serif"  filter="url(#bin)">S0' = 1.3 mm</text>
<text transform="translate(1454.30,1426.65) scale(0.932,1)" font-size="55.1" text-anchor="start" font-family="'Liberation Sans', Arial, Helvetica, sans-serif"  filter="url(#bin)">S0' = 1.4 mm</text>
<text transform="translate(1454.30,1503.20) scale(0.932,1)" font-size="55.1" text-anchor="start" font-family="'Liberation Sans', Arial, Helvetica, sans-serif"  filter="url(#bin)">S0' = 1.5 mm</text>
<text transform="translate(258.35,1984.30) scale(0.945,1)" font-size="69.3" text-anchor="end" font-family="'Liberation Sans', Arial, Helvetica, sans-serif"  filter="url(#bin)">–0.3</text>
<text transform="translate(258.35,1881.42) scale(0.945,1)" font-size="69.3" text-anchor="end" font-family="'Liberation Sans', Arial, Helvetica, sans-serif"  filter="url(#bin)">–0.2</text>
<text transform="translate(264.35,1778.55) scale(0.945,1)" font-size="69.3" text-anchor="end" font-family="'Liberation Sans', Arial, Helvetica, sans-serif"  filter="url(#bin)">–0.1</text>
<text transform="translate(258.35,1675.67) scale(0.945,1)" font-size="69.3" text-anchor="end" font-family="'Liberation Sans', Arial, Helvetica, sans-serif"  filter="url(#bin)">0</text>
<text transform="translate(264.35,1572.80) scale(0.945,1)" font-size="69.3" text-anchor="end" font-family="'Liberation Sans', Arial, Helvetica, sans-serif"  filter="url(#bin)">0.1</text>
<text transform="translate(258.35,1469.92) scale(0.945,1)" font-size="69.3" text-anchor="end" font-family="'Liberation Sans', Arial, Helvetica, sans-serif"  filter="url(#bin)">0.2</text>
<text transform="translate(258.35,1367.05) scale(0.945,1)" font-size="69.3" text-anchor="end" font-family="'Liberation Sans', Arial, Helvetica, sans-serif"  filter="url(#bin)">0.3</text>
<text transform="translate(258.35,1264.17) scale(0.945,1)" font-size="69.3" text-anchor="end" font-family="'Liberation Sans', Arial, Helvetica, sans-serif"  filter="url(#bin)">0.4</text>
<text transform="translate(258.35,1161.30) scale(0.945,1)" font-size="69.3" text-anchor="end" font-family="'Liberation Sans', Arial, Helvetica, sans-serif"  filter="url(#bin)">0.5</text>
<text transform="translate(269.70,2020.20) scale(0.945,1)" font-size="69.3" text-anchor="middle" font-family="'Liberation Sans', Arial, Helvetica, sans-serif"  filter="url(#bin)">0.3</text>
<text transform="translate(501.79,2020.20) scale(0.945,1)" font-size="69.3" text-anchor="middle" font-family="'Liberation Sans', Arial, Helvetica, sans-serif"  filter="url(#bin)">0.4</text>
<text transform="translate(735.07,2020.20) scale(0.945,1)" font-size="69.3" text-anchor="middle" font-family="'Liberation Sans', Arial, Helvetica, sans-serif"  filter="url(#bin)">0.5</text>
<text transform="translate(968.36,2020.20) scale(0.945,1)" font-size="69.3" text-anchor="middle" font-family="'Liberation Sans', Arial, Helvetica, sans-serif"  filter="url(#bin)">0.6</text>
<text transform="translate(1201.64,2020.20) scale(0.945,1)" font-size="69.3" text-anchor="middle" font-family="'Liberation Sans', Arial, Helvetica, sans-serif"  filter="url(#bin)">0.7</text>
<text transform="translate(1434.93,2020.20) scale(0.945,1)" font-size="69.3" text-anchor="middle" font-family="'Liberation Sans', Arial, Helvetica, sans-serif"  filter="url(#bin)">0.8</text>
<text transform="translate(1668.21,2020.20) scale(0.945,1)" font-size="69.3" text-anchor="middle" font-family="'Liberation Sans', Arial, Helvetica, sans-serif"  filter="url(#bin)">0.9</text>
<text transform="translate(1910.80,2020.20) scale(0.945,1)" font-size="69.3" text-anchor="middle" font-family="'Liberation Sans', Arial, Helvetica, sans-serif"  filter="url(#bin)">1</text>
<text x="1582.40" y="2082.70" font-size="76.2" text-anchor="start" font-family="'Liberation Serif', 'Times New Roman', serif"  filter="url(#bin)">Δ</text>
<text transform="translate(1655.83,2082.70) scale(1.15,1)" font-size="73.6" text-anchor="start" font-family="'Liberation Serif', 'Times New Roman', serif"  filter="url(#bin)">θ</text>
<text transform="translate(1695.60,2082.70) scale(0.9976211715730003,1)" font-size="75.0" text-anchor="start" font-family="'Liberation Sans', Arial, Helvetica, sans-serif"  filter="url(#bin)">' (deg)</text>
<text x="0" y="0" transform="translate(89.00,1546.80) rotate(-90) scale(1.0011,1)" font-size="75.0" text-anchor="middle" font-family="'Liberation Sans', Arial, Helvetica, sans-serif" filter="url(#bin)">Reflection Efficiency (Exp-Sim)</text>
</svg>
</body></html>
